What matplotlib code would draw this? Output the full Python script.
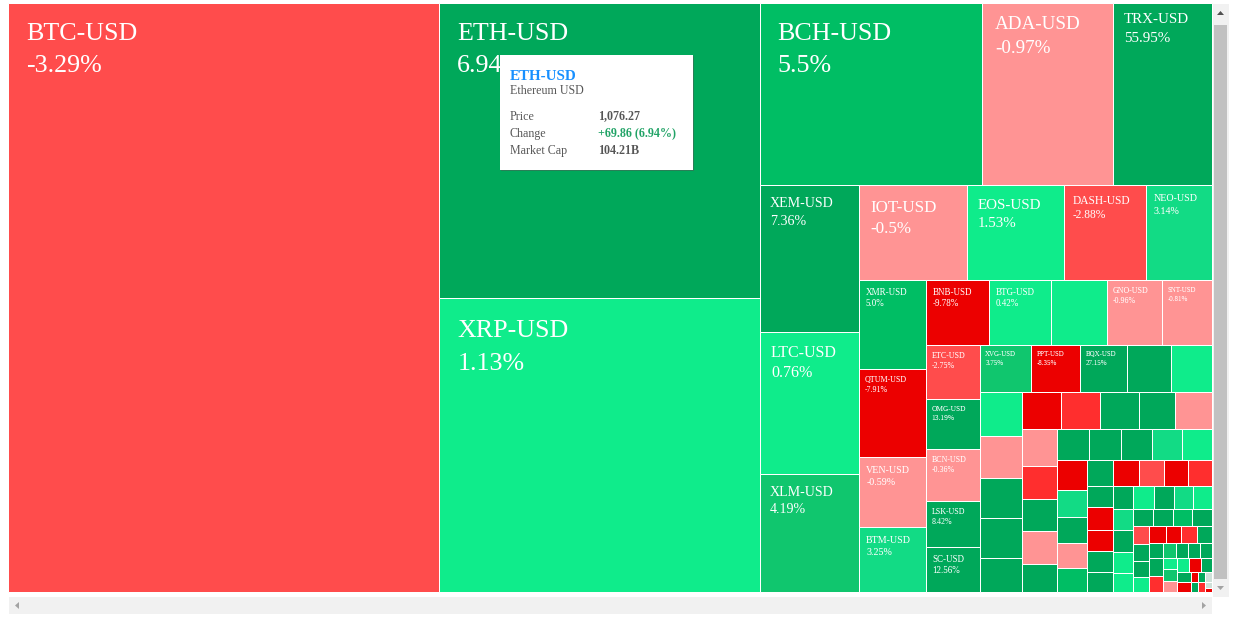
import numpy as np
import matplotlib
matplotlib.use('Agg')
import matplotlib.pyplot as plt
from matplotlib.patches import Rectangle, Polygon

plt.rcParams['font.family'] = ['Liberation Serif', 'DejaVu Serif']
plt.rcParams['text.hinting'] = 'native'

# cells, biggest first. empty ticker = no label fits in the cell
tickers = [
    'BTC-USD', 'ETH-USD', 'XRP-USD', 'BCH-USD', 'ADA-USD', 'TRX-USD', 'XEM-USD', 'LTC-USD', 'XLM-USD',
    'IOT-USD', 'EOS-USD', 'DASH-USD', 'NEO-USD', 'XMR-USD', 'QTUM-USD', 'VEN-USD', 'BTM-USD',
    'BNB-USD', 'BTG-USD', '', 'GNO-USD', 'SNT-USD', 'ETC-USD', 'OMG-USD', 'BCN-USD', 'LSK-USD', 'SC-USD',
    'XVG-USD', 'PPT-USD', 'BQX-USD', '', '',
] + [''] * 100

changes = [
    -3.29, 6.94, 1.13, 5.5, -0.97, 55.95, 7.36, 0.76, 4.19,
    -0.5, 1.53, -2.88, 3.14, 5.0, -7.91, -0.59, 3.25,
    -9.78, 0.42, 1.0, -0.96, -0.81, -2.75, 13.19, -0.36, 8.42, 12.56,
    3.75, -8.35, 27.15, 9.0, 1.0,
    1.0, -0.5, 9.0, 9.0, 9.0,
    -9.0, -5.5, 9.0, 9.0, -0.5,
    -0.5, -5.5, 9.0, -0.5, 9.0,
    9.0, 9.0, 9.0, 3.0, 1.0,
    -9.0, 3.0, 9.0, -0.5, 5.5,
    9.0, -9.0, -3.0, -9.0, -5.5,
    9.0, -9.0, -9.0, 9.0, 9.0,
    9.0, 1.0, 9.0, 3.0, 1.0,
    3.0, 9.0, 1.0, 1.0,
    9.0, 9.0, 5.5, 9.0,
    -3.0, 9.0, 9.0, 1.0,
    -9.0, -9.0, -5.5, 9.0,
    9.0, 9.0, -5.5,
    4.0, 9.0, 9.0, 9.0,
    1.0, 4.0, -0.5,
    1.0, -9.0, 9.0,
    9.0, -9.0,
    -9.0, 9.0,
    9.0, -5.5,
    np.nan, np.nan, -9.0,
]

# relative market cap of each cell
caps = [
    253428, 94080, 94080, 40404, 23842, 18018, 14454, 14058, 11682,
    10260, 9215, 7790, 6270, 5896, 5896, 4690, 4355,
    4032, 3968, 3584, 3520, 3200, 2916, 2700, 2808, 2484, 2430,
    2397, 2303, 2209, 2068, 1927,
    1848, 1764, 1680, 1680, 1428,
    1443, 1443, 1443, 1332, 1369,
    1295, 1155, 1120, 1155, 980,
    992, 992, 961, 930, 930,
    900, 810, 780, 750, 720,
    676, 676, 650, 624, 624,
    546, 598, 546, 546, 520,
    460, 483, 460, 437, 437,
    420, 440, 420, 380,
    340, 340, 323, 340,
    288, 272, 256, 240,
    289, 255, 272, 255,
    210, 252, 224,
    195, 180, 180, 180,
    154, 168, 154,
    168, 168, 154,
    140, 140,
    70, 70,
    70, 70,
    70, 42, 28,
]

# how the cells are cut into strips: c = column, r = row
strip_dirs = 'cc' + 'rc' * 11 + 'r' + 'cccc'
strip_sizes = [1, 2, 3, 3, 4, 4, 5, 5, 5, 5, 5, 5, 5, 5, 5, 5, 5, 4, 4, 4, 4, 3, 4, 3, 3, 2, 2, 2, 3]

# label size in px, by ticker
label_px = {
    'BTC-USD': 26, 'ETH-USD': 26, 'XRP-USD': 26, 'BCH-USD': 26, 'ADA-USD': 19, 'TRX-USD': 15,
    'XEM-USD': 14, 'LTC-USD': 16, 'XLM-USD': 14, 'IOT-USD': 17, 'EOS-USD': 15, 'DASH-USD': 11.5,
    'NEO-USD': 10, 'XMR-USD': 9, 'QTUM-USD': 8, 'VEN-USD': 10, 'BTM-USD': 10, 'BNB-USD': 9,
    'BTG-USD': 9, 'GNO-USD': 8, 'SNT-USD': 7, 'ETC-USD': 8, 'OMG-USD': 7.5, 'BCN-USD': 8,
    'LSK-USD': 8, 'SC-USD': 9, 'XVG-USD': 7, 'PPT-USD': 7, 'BQX-USD': 7,
}

# tooltip
tip_ticker = 'ETH-USD'
tip_name = 'Ethereum USD'
tip_rows = ['Price', 'Change', 'Market Cap']
tip_vals = ['1,076.27', '+69.86 (6.94%)', '104.21B']


def change_color(c):
    if np.isnan(c):
        return '#cfe0d8'
    edges = [-7, -4, -1, 0, 2, 3.5, 5, 6]
    cols = ['#ec0000', '#ff2e2e', '#ff4c4c', '#ff9494', '#0fec8b', '#12db85', '#10c66e', '#00be64', '#00a85a']
    return cols[np.searchsorted(edges, c, side='right')]


def layout(caps, dirs, sizes, x0, y0, x1, y1):
    # slice one strip after another off the remaining rectangle
    rects = []
    caps = np.array(caps, dtype=float)
    i = 0
    for d, n in zip(dirs, sizes):
        part = caps[i:i + n]
        left = caps[i:].sum()
        if d == 'c':
            w = (x1 - x0) * part.sum() / left
            y = y0
            for v in part:
                h = (y1 - y0) * v / part.sum()
                rects.append((x0, y, w, h))
                y += h
            x0 += w
        else:
            h = (y1 - y0) * part.sum() / left
            x = x0
            for v in part:
                w = (x1 - x0) * v / part.sum()
                rects.append((x, y0, w, h))
                x += w
            y0 += h
        i += n
    return rects


fig = plt.figure(figsize=(12.47, 6.18), dpi=100)
ax = fig.add_axes([0, 0, 1, 1])
ax.set_xlim(0, 1247)
ax.set_ylim(618, 0)
ax.axis('off')

for (x, y, w, h), name, c in zip(layout(caps, strip_dirs, strip_sizes, 8, 3, 1212, 592), tickers, changes):
    ax.add_patch(Rectangle((x, y), w, h, facecolor=change_color(c), edgecolor='white', linewidth=0.72))
    if name:
        px = label_px[name]
        off = 1.25 * px + 1
        if y < 5:  # top row sits a bit higher in its cell
            off -= 3
        ax.text(x + 0.65 * px + 1, y + off, name, color='white', fontsize=px * 0.72, va='center')
        ax.text(x + 0.65 * px + 1, y + off + 1.25 * px, str(c) + '%', color='white', fontsize=px * 0.72, va='center')

# tooltip box
ax.add_patch(Rectangle((501, 56), 193, 115, facecolor='#555555', alpha=0.5, edgecolor='none', zorder=5))
ax.add_patch(Rectangle((500, 55), 193, 115, facecolor='white', edgecolor='none', zorder=6))
ax.text(510, 76, tip_ticker, color='#1890ff', fontsize=15 * 0.72, fontweight='bold', va='center', zorder=7)
ax.text(510, 91, tip_name, color='#555555', fontsize=12 * 0.72, va='center', zorder=7)
for row_y, label, val in zip([117, 134, 151], tip_rows, tip_vals):
    ax.text(510, row_y, label, color='#555555', fontsize=12 * 0.72, va='center', zorder=7)
    val_col = '#21a366' if val.startswith('+') else '#555555'
    ax.text(598, row_y, val, color=val_col, fontsize=12 * 0.72, fontweight='bold', va='center', zorder=7)

# scrollbars
ax.add_patch(Rectangle((1213, 4), 16, 593, facecolor='#f1f1f1', edgecolor='none'))
ax.add_patch(Rectangle((1214, 25), 13, 554, facecolor='#c1c1c1', edgecolor='none'))
ax.add_patch(Rectangle((9, 597), 1203, 17, facecolor='#f1f1f1', edgecolor='none'))
ax.add_patch(Polygon([[1217, 15], [1224, 15], [1220.5, 11]], facecolor='#505050', edgecolor='none'))
ax.add_patch(Polygon([[1217, 586], [1224, 586], [1220.5, 590]], facecolor='#a3a3a3', edgecolor='none'))
ax.add_patch(Polygon([[19, 602], [19, 609], [15, 605.5]], facecolor='#a3a3a3', edgecolor='none'))
ax.add_patch(Polygon([[1202, 602], [1202, 609], [1206, 605.5]], facecolor='#a3a3a3', edgecolor='none'))

fig.savefig('out.png', dpi=100)
